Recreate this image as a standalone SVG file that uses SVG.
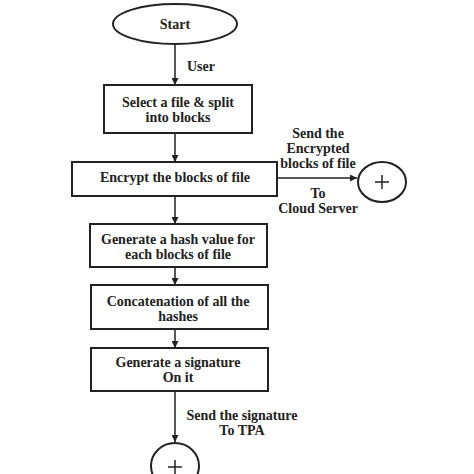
<svg xmlns="http://www.w3.org/2000/svg" width="474" height="474" viewBox="0 0 474 474">
<defs>
<style>
.t{font-family:"Liberation Serif","Times New Roman",serif;font-weight:bold;font-size:14px;fill:#222;text-anchor:middle}
.b{fill:#fff;stroke:#222;stroke-width:2}
.c{fill:none;stroke:#222;stroke-width:1.5}
.p{stroke:#222;stroke-width:1.5}
</style>
<marker id="ah" viewBox="0 0 10 10" refX="10" refY="5" markerWidth="7" markerHeight="7" orient="auto" markerUnits="userSpaceOnUse">
<path d="M0,0 L10,5 L0,10 z" fill="#222"/>
</marker>
</defs>
<rect width="474" height="474" fill="#fff"/>
<g id="connectors">
<line class="c" x1="175" y1="44" x2="175" y2="85" marker-end="url(#ah)"/>
<line class="c" x1="175" y1="133" x2="175" y2="162" marker-end="url(#ah)"/>
<line class="c" x1="277" y1="178" x2="357" y2="178" marker-end="url(#ah)"/>
<line class="c" x1="175" y1="196" x2="175" y2="224" marker-end="url(#ah)"/>
<line class="c" x1="175" y1="267" x2="175" y2="285" marker-end="url(#ah)"/>
<line class="c" x1="175" y1="329" x2="175" y2="348" marker-end="url(#ah)"/>
<line class="c" x1="175" y1="391" x2="175" y2="442" marker-end="url(#ah)"/>
<text class="t" x="201" y="71">User</text>
<text class="t" x="318" y="138">Send the</text>
<text class="t" x="318" y="153">Encrypted</text>
<text class="t" x="318" y="168">blocks of file</text>
<text class="t" x="318" y="198">To</text>
<text class="t" x="318" y="213">Cloud Server</text>
<text class="t" x="242" y="420">Send the signature</text>
<text class="t" x="242" y="435">To TPA</text>
</g>
<g id="start">
<ellipse class="b" cx="175" cy="24" rx="62" ry="20"/>
<text class="t" x="175" y="29">Start</text>
</g>
<g id="select">
<rect class="b" x="104" y="85" width="148" height="48"/>
<text class="t" x="178" y="107">Select a file &amp; split</text>
<text class="t" x="178" y="122">into blocks</text>
</g>
<g id="encrypt">
<rect class="b" x="72" y="162" width="205" height="34"/>
<text class="t" x="175" y="182">Encrypt the blocks of file</text>
</g>
<g id="cloud">
<ellipse class="b" cx="382" cy="182" rx="24" ry="20"/>
<line class="p" x1="375" y1="182" x2="389" y2="182"/>
<line class="p" x1="382" y1="175" x2="382" y2="189"/>
</g>
<g id="hash">
<rect class="b" x="90" y="224" width="177" height="43"/>
<text class="t" x="178" y="244">Generate a hash value for</text>
<text class="t" x="178" y="259">each blocks of file</text>
</g>
<g id="concat">
<rect class="b" x="91" y="285" width="177" height="44"/>
<text class="t" x="178" y="306">Concatenation of all the</text>
<text class="t" x="178" y="321">hashes</text>
</g>
<g id="sign">
<rect class="b" x="91" y="348" width="177" height="43"/>
<text class="t" x="178" y="367">Generate a signature</text>
<text class="t" x="178" y="382">On it</text>
</g>
<g id="tpa">
<ellipse class="b" cx="175" cy="466" rx="24" ry="23"/>
<line class="p" x1="168" y1="467" x2="182" y2="467"/>
<line class="p" x1="175" y1="460" x2="175" y2="474"/>
</g>
</svg>
